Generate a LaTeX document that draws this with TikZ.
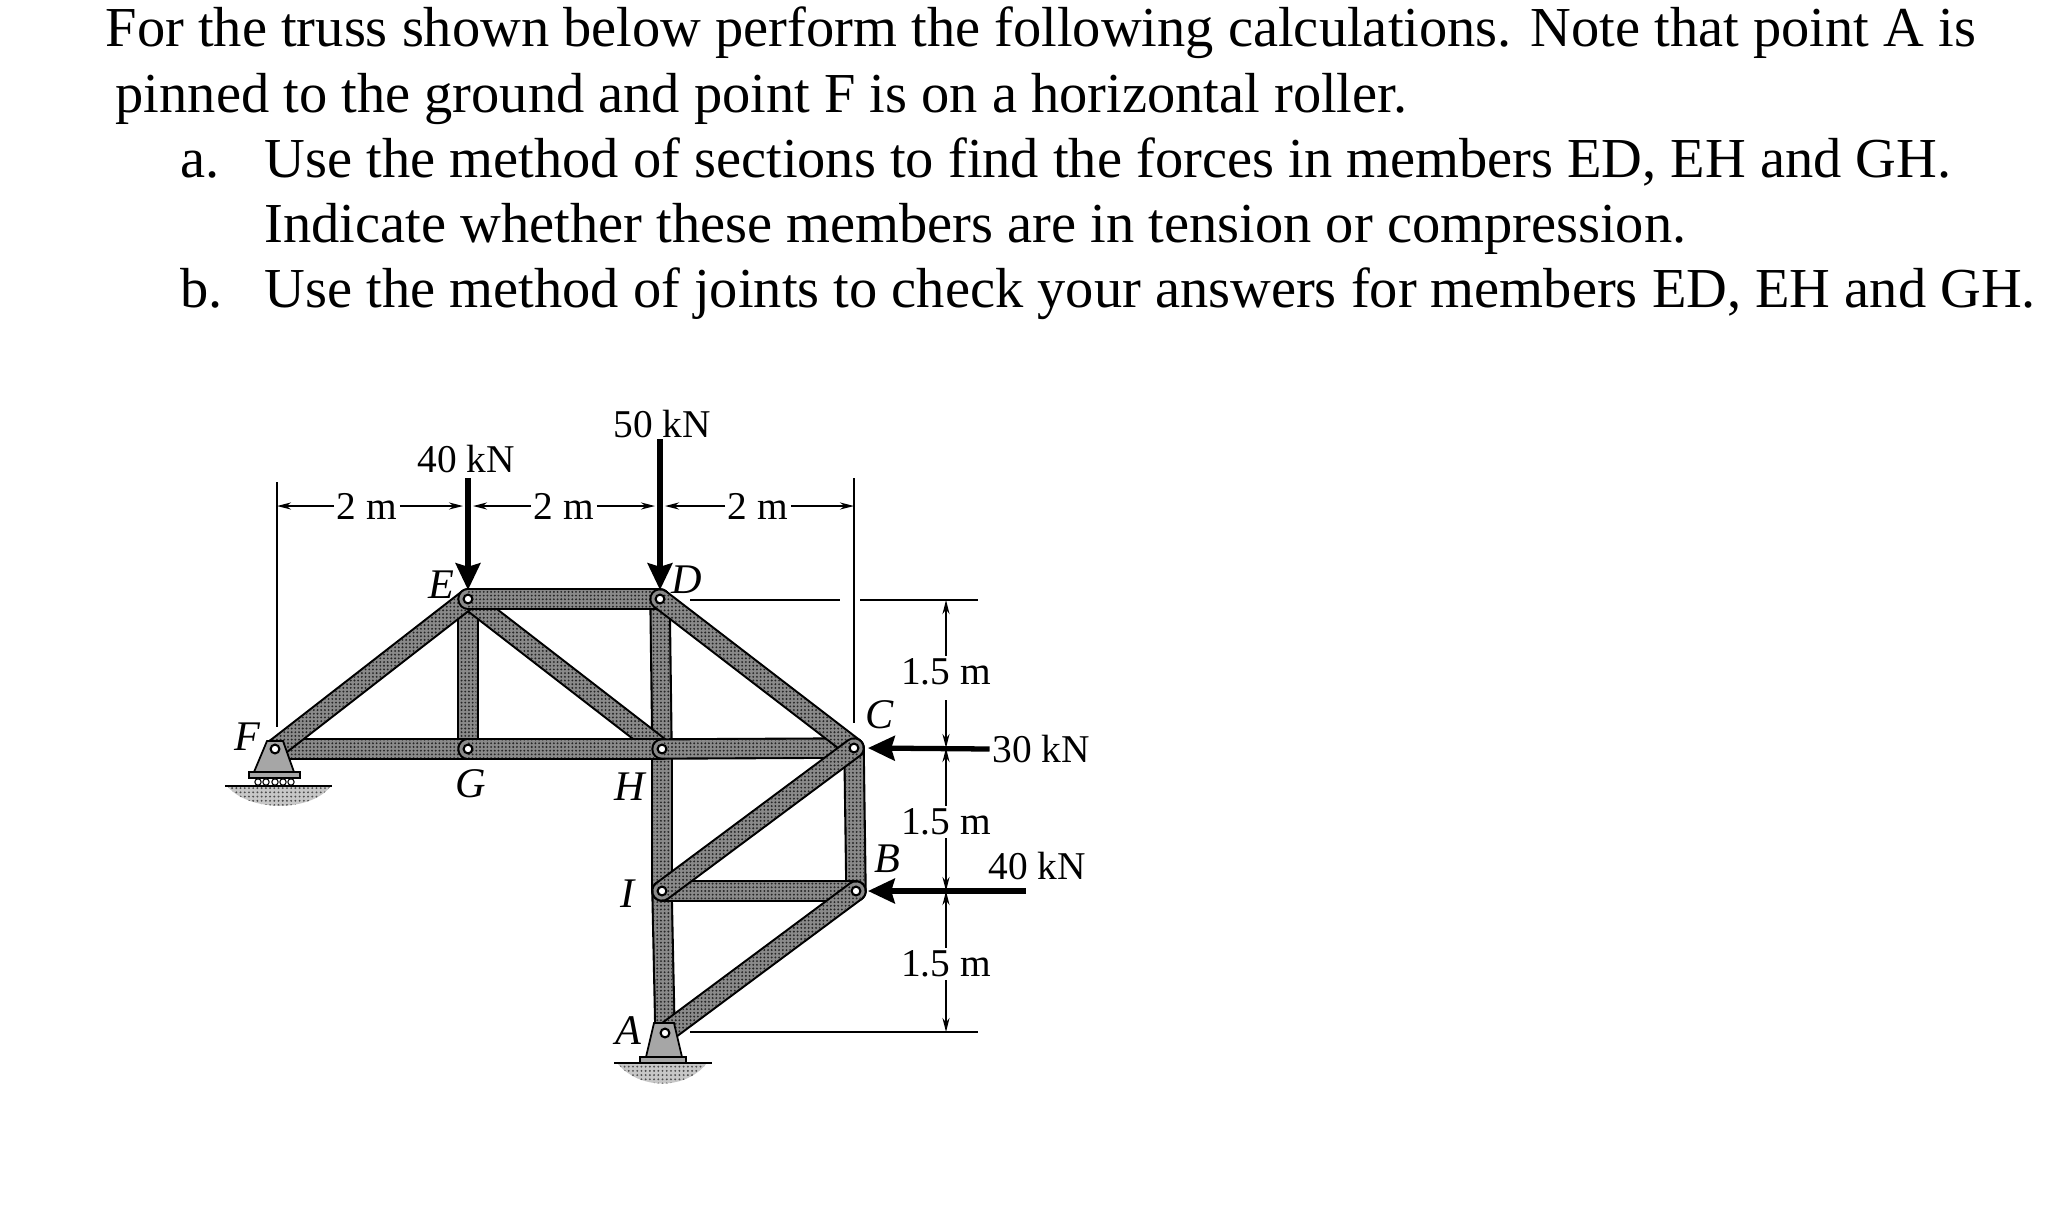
\documentclass[tikz,border=0pt]{standalone}
\usepackage{fontspec}
\setmainfont{Liberation Serif}
\usetikzlibrary{arrows.meta,calc,patterns.meta}
\tikzset{
  prose/.style={anchor=base west,inner sep=0pt,font=\fontsize{16.05}{18.6}\selectfont},
  member/.style={line width=.6pt,double=black!46,double distance=4.9pt,line cap=round},
  speckle/.style={pattern={Dots[distance=1.05pt,radius=.3pt]},pattern color=black!85},
  dim/.style={line width=.5pt,-{Stealth[length=4pt,width=2pt]}},
  extline/.style={line width=.5pt},
  load/.style={line width=1.5pt,-{Stealth[length=7.6pt,width=7pt,inset=1pt]}},
  lbl/.style={inner sep=.6pt,font=\fontsize{11.2}{12}\selectfont},
  letter/.style={inner sep=0pt,font=\fontsize{12}{12}\selectfont\itshape},
  pinhole/.style={circle,draw=black,fill=white,line width=.6pt,minimum size=2.5pt,inner sep=0pt},
  gusset/.style={draw=black,line width=.5pt,fill=black!35},
  roller/.style={circle,draw=black,fill=white,line width=.3pt,minimum size=1.8pt,inner sep=0pt},
  soil/.style={preaction={fill=black!22},pattern={Dots[distance=1.2pt,radius=.3pt]},pattern color=black!70}
}
\begin{document}
\begin{tikzpicture}[x=.01cm,y=-.01cm]
\useasboundingbox (0,0) rectangle (2046,1227);
% problem text
\node[prose] (line1) at (105,47) {For the truss shown below perform the following calculations. Note that point A is};
\node[prose] (line2) at (115,112) {pinned to the ground and point F is on a horizontal roller.};
\node[prose] (marka) at (180,177) {a.};
\node[prose] (line3) at (264,177) {Use the method of sections to find the forces in members ED, EH and GH.};
\node[prose] (line4) at (264,242) {Indicate whether these members are in tension or compression.};
\node[prose] (markb) at (180,307) {b.};
\node[prose] (line5) at (264,307) {Use the method of joints to check your answers for members ED, EH and GH.};
% joints
\coordinate (E) at (468,599);
\coordinate (D) at (660,599);
\coordinate (F) at (275,749);
\coordinate (G) at (468,749);
\coordinate (H) at (662,749);
\coordinate (C) at (854,748);
\coordinate (I) at (662,891);
\coordinate (B) at (856,891);
\coordinate (A) at (665,1033);
% members, back to front
\foreach \p/\q in {D/H,H/I,I/A,E/G,E/H,C/B,I/B,F/G,G/H,H/C,F/E,E/D,D/C,C/I,B/A}{
  \draw[member] (\p) -- (\q);
  \fill[speckle] ($(\p)!2.4pt!90:(\q)$) -- ($(\p)!2.4pt!-90:(\q)$)
    -- ($(\q)!2.4pt!90:(\p)$) -- ($(\q)!2.4pt!-90:(\p)$) -- cycle;
}
% supports
\draw[gusset] (267,741) -- (283,741) -- (294,772) -- (254,772) -- cycle;
\draw[gusset] (249,772) rectangle (300,778);
\foreach \k/\x in {1/258,2/266,3/275,4/283,5/291}
  \node[roller] (roll\k) at (\x,782) {};
\fill[soil] (228,787) .. controls (250,812) and (310,812) .. (330,787) -- cycle;
\draw[extline] (225,786) -- (332,786);
\draw[gusset] (654,1023) -- (674,1023) -- (682,1057) -- (646,1057) -- cycle;
\draw[gusset] (640,1057) rectangle (686,1063);
\fill[soil] (618,1064) .. controls (640,1090) and (685,1090) .. (706,1064) -- cycle;
\draw[extline] (614,1063) -- (712,1063);
\foreach \j in {E,D,F,G,H,C,I,B,A}
  \node[pinhole] (pin\j) at (\j) {};
% extension lines
\coordinate (extFa) at (277,482);
\coordinate (extFb) at (277,727);
\coordinate (extCa) at (854,478);
\coordinate (extCb) at (854,723);
\draw[extline] (extFa) -- (extFb);
\draw[extline] (extCa) -- (extCb);
\coordinate (topa) at (690,600);
\coordinate (topb) at (840,600);
\coordinate (topc) at (860,600);
\coordinate (topd) at (978,600);
\draw[extline] (topa) -- (topb);
\draw[extline] (topc) -- (topd);
\coordinate (bota) at (690,1032);
\coordinate (botd) at (978,1032);
\draw[extline] (bota) -- (botd);
% loads
\node[lbl] (loadE) at (466,459) {40 kN};
\node[lbl] (loadD) at (662,424) {50 kN};
\node[lbl] (loadC) at (1041,749) {30 kN};
\node[lbl] (loadB) at (1037,866) {40 kN};
\coordinate (tailE) at (468,478);
\coordinate (tailD) at (660,439);
\coordinate (tailB) at (1026,891);
\draw[load] (tailE) -- (468,590);
\draw[load] (tailD) -- (660,590);
\draw[load] (loadC.west) -- (868,748);
\draw[load] (tailB) -- (868,891);
% horizontal dimensions
\node[lbl] (spana) at (367,506) {2 m};
\node[lbl] (spanb) at (564,506) {2 m};
\node[lbl] (spanc) at (758,506) {2 m};
\draw[dim] (spana) -- (spana -| extFa);
\draw[dim] (spana) -- (463,506);
\draw[dim] (spanb) -- (473,506);
\draw[dim] (spanb) -- (655,506);
\draw[dim] (spanc) -- (665,506);
\draw[dim] (spanc) -- (spanc -| extCa);
% vertical dimensions
\node[lbl] (hta) at (946,672) {1.5 m};
\node[lbl] (htb) at (946,822) {1.5 m};
\node[lbl] (htc) at (946,964) {1.5 m};
\coordinate (vtop) at (946,600);
\coordinate (vmid) at (946,748);
\coordinate (vlow) at (946,891);
\coordinate (vbot) at (946,1032);
\coordinate (vgap) at (946,700);
\draw[dim] (hta) -- (vtop);
\draw[dim] (vgap) -- (vmid);
\draw[dim] (htb) -- (vmid);
\draw[dim] (htb) -- (vlow);
\draw[dim] (htc) -- (vlow);
\draw[dim] (htc) -- (vbot);
% joint letters
\node[letter] (nameE) at (441,585) {E};
\node[letter] (nameD) at (687,580) {D};
\node[letter] (nameF) at (247,737) {F};
\node[letter] (nameG) at (471,784) {G};
\node[letter] (nameH) at (630,787) {H};
\node[letter] (nameI) at (628,894) {I};
\node[letter] (nameA) at (628,1031) {A};
\node[letter] (nameB) at (887,859) {B};
\node[letter] (nameC) at (880,715) {C};
\end{tikzpicture}
\end{document}
